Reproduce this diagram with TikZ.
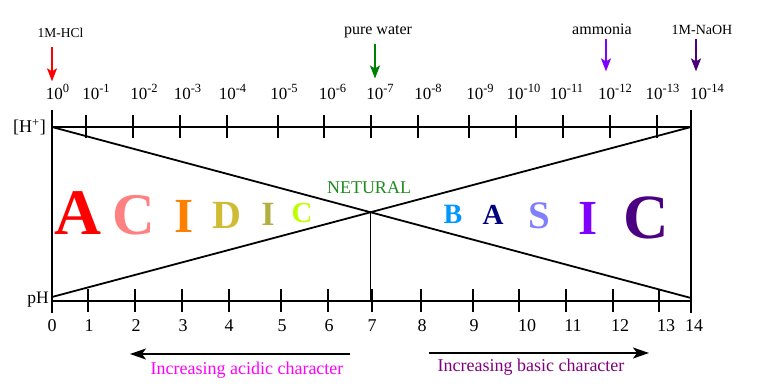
\documentclass[tikz,border=0pt]{standalone}
\usepackage{fontspec}
\setmainfont{Liberation Serif}
\usetikzlibrary{arrows.meta}

\tikzstyle{axis} = [draw, line width=1.8pt]
\tikzstyle{tickmark} = [draw, line width=1.4pt]
\tikzstyle{powlabel} = [anchor=base, inner sep=0pt, font=\fontsize{17}{17}\selectfont]
\tikzstyle{phlabel} = [anchor=base, inner sep=0pt, font=\fontsize{18}{18}\selectfont]
\tikzstyle{sample} = [anchor=base, inner sep=0pt, font=\fontsize{15}{15}\selectfont]
\tikzstyle{marker} = [draw, line width=1.8pt, -{Stealth[length=13pt,width=10pt,inset=3pt]}]
\tikzstyle{trend} = [draw, line width=1.6pt, -{Stealth[length=16pt,width=11pt,inset=4pt]}]
\tikzstyle{trendtext} = [inner sep=0pt, font=\fontsize{18}{18}\selectfont]
\tikzstyle{bigletter} = [inner sep=0pt]
\newcommand{\pw}[1]{10\raisebox{0.42em}{\fontsize{12.5}{12.5}\selectfont#1}}
\definecolor{red1}{RGB}{255,0,0}
\definecolor{salmon1}{RGB}{255,128,128}
\definecolor{orange1}{RGB}{255,128,0}
\definecolor{gold1}{RGB}{208,188,52}
\definecolor{olive1}{RGB}{176,176,64}
\definecolor{lime1}{RGB}{190,255,0}
\definecolor{blue1}{RGB}{0,150,255}
\definecolor{navy1}{RGB}{0,0,128}
\definecolor{lavender1}{RGB}{128,128,255}
\definecolor{violet1}{RGB}{128,0,255}
\definecolor{indigo1}{RGB}{75,0,130}
\definecolor{green1}{RGB}{0,128,0}
\definecolor{green2}{RGB}{30,140,30}
\definecolor{magenta1}{RGB}{255,0,255}
\definecolor{purple1}{RGB}{128,0,128}

\begin{document}
\begin{tikzpicture}[x=1pt, y=-1pt]
	\useasboundingbox (0,0) rectangle (768,390);

	% frame of the two scales
	\coordinate (top_l) at (52,127);
	\coordinate (top_r) at (691,127);
	\coordinate (bot_l) at (52,301);
	\coordinate (bot_r) at (691,301);
	\draw [axis] (top_l) -- (top_r);
	\draw [axis] (bot_l) -- (bot_r);
	\draw [axis] ([yshift=17pt] top_l) -- ([yshift=-12pt] bot_l);
	\draw [axis] ([yshift=17pt] top_r) -- ([yshift=-12pt] bot_r);

	% ticks
	\foreach \x in {86,133,180,227,278,324,371,418,469,516,563,610,657}
		\draw [tickmark] (\x,115) -- (\x,138);
	\foreach \x in {88,135,182,229,281,328,372,421,473,519,566,613,659}
		\draw [tickmark] (\x,289) -- (\x,312);

	% diagonals
	\coordinate (diag_tl) at (52,127);
	\coordinate (diag_br) at (691,298);
	\coordinate (diag_bl) at (52,297);
	\coordinate (diag_tr) at (691,127);
	\draw [axis] (diag_tl) -- (diag_br);
	\draw [axis] (diag_bl) -- (diag_tr);
	\coordinate (cross) at (intersection of diag_tl--diag_br and diag_bl--diag_tr);
	\draw [axis] (cross) -- (cross |- bot_l);

	% [H+] labels
	\foreach \x/\e [count=\i from 0] in {57.5/0,96/-1,144/-2,187.5/-3,232.5/-4,284/-5,332.5/-6,380/-7,428/-8,480/-9,523.5/-10,566.5/-11,615/-12,662.5/-13,707/-14}
		\node [powlabel] (pow_\i) at (\x,100) {\pw{\e}};

	% pH labels
	\foreach \x [count=\i from 0] in {52,89,136,183,229,282,329,372,422,474,527,573,620,666,694}
		\node [phlabel] (ph_\i) at (\x,331) {\i};

	\node [anchor=east, inner sep=0pt, font=\fontsize{18}{18}\selectfont] (conc) at (46,127) {[H\textsuperscript{+}]};
	\node [anchor=base east, inner sep=0pt, font=\fontsize{17.5}{17.5}\selectfont] (ph) at (49,303) {pH};

	% samples
	\node [sample, font=\fontsize{13.5}{13.5}\selectfont] (hcl) at (60.5,38) {1M-HCl};
	\node [sample, font=\fontsize{16}{16}\selectfont] (water) at (378,34.5) {pure water};
	\node [sample, font=\fontsize{16}{16}\selectfont] (ammonia) at (602,34.5) {ammonia};
	\node [sample, font=\fontsize{14}{14}\selectfont] (naoh) at (702,34.5) {1M-NaOH};

	\draw [marker, color=red1] ([xshift=-8.5pt, yshift=-9pt] hcl.south) coordinate (hcl_a) -- ([yshift=3pt] hcl_a |- pow_0.north);
	\draw [marker, color=green1] ([xshift=-3pt, yshift=-6pt] water.south) coordinate (water_a) -- ([yshift=6pt] water_a |- pow_7.north);
	\draw [marker, color=violet1] ([xshift=4pt, yshift=-4pt] ammonia.south) coordinate (ammonia_a) -- ([yshift=13pt] ammonia_a |- pow_12.north);
	\draw [marker, color=indigo1] ([xshift=-6pt, yshift=-4pt] naoh.south) coordinate (naoh_a) -- ([yshift=13pt] naoh_a |- pow_14.north);

	% ACIDIC
	\node [bigletter, color=red1, font=\fontsize{65}{65}\selectfont\bfseries] (acid_1) at (78,213) {A};
	\node [bigletter, color=salmon1, font=\fontsize{59}{59}\selectfont\bfseries] (acid_2) at (134,215) {C};
	\node [bigletter, color=orange1, font=\fontsize{49}{49}\selectfont\bfseries] (acid_3) at (184,216) {I};
	\node [bigletter, color=gold1, font=\fontsize{40}{40}\selectfont\bfseries] (acid_4) at (227,215) {D};
	\node [bigletter, color=olive1, font=\fontsize{34}{34}\selectfont\bfseries] (acid_5) at (268,214) {I};
	\node [bigletter, color=lime1, font=\fontsize{29}{29}\selectfont\bfseries] (acid_6) at (302,213) {C};

	\node [inner sep=0pt, color=green2, font=\fontsize{18}{18}\selectfont] (neutral) at (369,188) {NETURAL};

	% BASIC
	\node [bigletter, color=blue1, font=\fontsize{28}{28}\selectfont\bfseries] (base_1) at (453,214) {B};
	\node [bigletter, color=navy1, font=\fontsize{29}{29}\selectfont\bfseries] (base_2) at (493,215) {A};
	\node [bigletter, color=lavender1, font=\fontsize{39}{39}\selectfont\bfseries] (base_3) at (539,216) {S};
	\node [bigletter, color=violet1, font=\fontsize{49}{49}\selectfont\bfseries] (base_4) at (588,218) {I};
	\node [bigletter, color=indigo1, font=\fontsize{63}{63}\selectfont\bfseries] (base_5) at (646,218) {C};

	% trends
	\coordinate (acid_from) at (350,354);
	\coordinate (acid_to) at (130,354);
	\coordinate (base_from) at (429,353);
	\coordinate (base_to) at (649,353);
	\draw [trend] (acid_from) -- (acid_to);
	\draw [trend] (base_from) -- (base_to);
	\node [trendtext, color=magenta1] (acid_text) at (247,370) {Increasing acidic character};
	\node [trendtext, color=purple1] (base_text) at (531,367) {Increasing basic character};
\end{tikzpicture}
\end{document}
